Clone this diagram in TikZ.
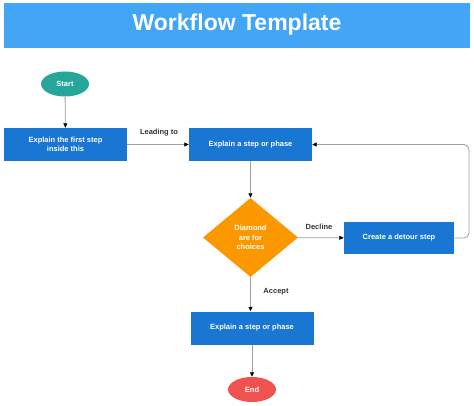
\documentclass[tikz,border=0pt]{standalone}
\usepackage{fontspec}
\setmainfont{Liberation Sans}
\usetikzlibrary{arrows.meta,shapes.geometric}
\definecolor{barblue}{HTML}{42A5F5}
\definecolor{boxblue}{HTML}{1976D2}
\definecolor{startgreen}{HTML}{26A69A}
\definecolor{endred}{HTML}{EF5350}
\definecolor{choiceorange}{HTML}{FB9800}
\definecolor{linegray}{HTML}{9E9E9E}
\definecolor{labelgray}{HTML}{333333}
\tikzset{
  stepbox/.style={fill=boxblue, text=white, font=\fontsize{7.5}{9.2}\selectfont\bfseries,
    minimum width=123pt, minimum height=33pt, inner sep=0pt, align=center},
  endpoint/.style={ellipse, text=white, font=\fontsize{7.5}{9.2}\selectfont\bfseries,
    minimum width=48pt, minimum height=25pt, inner sep=0pt},
  flow/.style={draw=linegray, line width=0.8pt, -{Triangle[black,length=4.5pt,width=4pt]}},
  flowlabel/.style={text=labelgray, font=\fontsize{7.5}{9.2}\selectfont\bfseries}
}
\begin{document}
\begin{tikzpicture}[x=1pt,y=-1pt]
\useasboundingbox[fill=white] (0,0) rectangle (474,406);

\fill[barblue] (4,3) rectangle (470,48);
\node[text=white, font=\fontsize{23}{27}\selectfont\bfseries] (v1) at (237,25) {Workflow Template};

\node[endpoint, fill=startgreen] (v2) at (65,84) {Start};
\node[stepbox] (v3) at (65.5,144.5) {Explain the first step\\inside this};
\node[stepbox] (v4) at (250.5,144.5) {Explain a step or phase};
\node[diamond, fill=choiceorange, text=white, font=\fontsize{7.5}{9.2}\selectfont\bfseries,
  minimum width=95pt, minimum height=79pt, inner sep=0pt, align=center] (v5) at (250.5,237.5) {Diamond\\are for\\choices};
\node[stepbox, minimum width=110pt, minimum height=32pt] (v6) at (399,238) {Create a detour step};
\node[stepbox] (v7) at (252,328) {Explain a step or phase};
\node[endpoint, fill=endred] (v8) at (252,389.5) {End};

\coordinate (v9) at (469,238);

\draw[flow] (v2) -- (v3);
\draw[flow] (v3) -- (v4);
\draw[flow] (v4) -- (v5);
\draw[flow] (v5) -- (v6);
\draw[flow] (v5.south) -- (v7.north -| v5.south);
\draw[flow] (v7) -- (v8);
\draw[flow, rounded corners=5pt] (v6.east) -- (v9) |- (v4.east);

\node[flowlabel] (v10) at (159,133) {Leading to};
\node[flowlabel] (v11) at (319,227) {Decline};
\node[flowlabel] (v12) at (276,292) {Accept};
\end{tikzpicture}
\end{document}
